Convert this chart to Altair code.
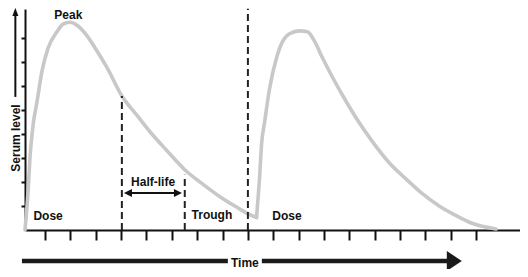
import altair as alt
import pandas as pd

# ---- data (time in tick units, serum level in tick units) ----
dose1_t = [0.21, 0.33, 0.41, 0.53, 0.69, 0.88, 1.12, 1.47, 1.71, 1.98, 2.30, 2.65, 3.05, 3.44,
           4.03, 4.62, 5.13, 5.80, 6.51, 7.22, 8.00, 8.67, 8.99, 9.34]
dose1_v = [0.00, 1.59, 3.07, 4.38, 5.38, 6.61, 7.57, 8.25, 8.57, 8.65, 8.49, 8.09, 7.45, 6.77,
           5.58, 4.78, 4.10, 3.31, 2.51, 1.91, 1.31, 0.88, 0.68, 0.52]
dose2_t = [9.34, 9.46, 9.54, 9.66, 9.85, 10.13, 10.37, 10.64, 11.03, 11.35, 11.63, 11.94, 12.33,
           12.88, 13.40, 13.91, 14.58, 15.25, 15.88, 16.54, 17.21, 17.84, 18.79]
dose2_v = [0.52, 2.19, 3.59, 4.50, 5.86, 7.17, 7.85, 8.17, 8.29, 8.25, 7.85, 7.17, 6.37,
           5.34, 4.45, 3.68, 2.79, 2.11, 1.51, 1.00, 0.60, 0.28, 0.04]

x_ticks = list(range(1, 19))
y_ticks = list(range(1, 9))

dash_t = [4.03, 6.51, 9.0]
dash_top = [5.58, 2.30, 9.21]

label_text = ["Peak", "Dose", "Half-life", "Trough", "Dose"]
label_t = [1.92, 1.12, 5.26, 7.58, 10.54]
label_v = [8.79, 0.42, 1.83, 0.46, 0.42]

time_label_t = [8.88]
time_label_v = [-1.54]
time_bar_t = [0.09, 9.55]
time_bar_t2 = [8.21, 16.96]
time_bar_v = [-1.29, -1.29]
time_head_t = [17.14]

half_t = [4.27]
half_t2 = [6.24]
half_v = [1.54]

serum_t = [0.012]
serum_v = [3.83]
serum_arrow_t = [-0.17]
serum_arrow_v = [5.54]
serum_arrow_v2 = [8.92]
serum_head_v = [9.08]

# ---- scales / axes ----
xs = alt.Scale(domain=[0.21, 19.73], nice=False, zero=False)
ys = alt.Scale(domain=[0, 9.2], nice=False, zero=False)
FONT = "Liberation Sans"
INK = "#111111"

x_axis = alt.Axis(values=x_ticks, labels=False, title=None, grid=False,
                  tickSize=10, tickWidth=2, tickColor=INK, domainColor=INK, domainWidth=2)
y_axis = alt.Axis(values=y_ticks, labels=False, title=None, grid=False,
                  tickSize=4, tickWidth=2, tickColor=INK, domainColor=INK, domainWidth=2)


def X(field="t"):
    return alt.X(f"{field}:Q", scale=xs, axis=x_axis)


def Y(field="v"):
    return alt.Y(f"{field}:Q", scale=ys, axis=y_axis)


curve_df = pd.DataFrame({
    "t": dose1_t + dose2_t,
    "v": dose1_v + dose2_v,
    "dose": ["first"] * len(dose1_t) + ["second"] * len(dose2_t),
})

curve = alt.Chart(curve_df).mark_line(
    interpolate="monotone", color="#c8c8c8", strokeWidth=3.6, strokeCap="round", strokeJoin="round"
).encode(x=X(), y=Y(), detail="dose:N")

dash_df = pd.DataFrame({"t": dash_t, "v": [0] * len(dash_t), "v2": dash_top})
dashes = alt.Chart(dash_df).mark_rule(color="#222222", strokeWidth=2, strokeDash=[7, 4]).encode(
    x=X(), y=Y(), y2="v2:Q"
)

lab_df = pd.DataFrame({"t": label_t, "v": label_v, "label": label_text})
labels = alt.Chart(lab_df).mark_text(
    font=FONT, fontWeight="bold", fontSize=12, align="center", baseline="alphabetic", color=INK
).encode(x=X(), y=Y(), text="label:N")

time_df = pd.DataFrame({"t": time_label_t, "v": time_label_v, "label": ["Time"]})
time_text = alt.Chart(time_df).mark_text(
    font=FONT, fontWeight="bold", fontSize=12, align="center", baseline="alphabetic", color=INK
).encode(x=X(), y=Y(), text="label:N")

bar_df = pd.DataFrame({"t": time_bar_t, "t2": time_bar_t2, "v": time_bar_v})
time_bars = alt.Chart(bar_df).mark_rule(color="#1a1a1a", strokeWidth=4.5).encode(
    x=X(), x2="t2:Q", y=Y()
)

head_df = pd.DataFrame({"t": time_head_t, "v": [time_bar_v[0]]})
time_head = alt.Chart(head_df).mark_point(
    shape="M-0.75,-1L0.75,0L-0.75,1Z", size=400, filled=True, opacity=1, color="#1a1a1a", strokeWidth=0
).encode(x=X(), y=Y())

half_df = pd.DataFrame({"t": half_t, "t2": half_t2, "v": half_v})
half_line = alt.Chart(half_df).mark_rule(color=INK, strokeWidth=2.2).encode(
    x=X(), x2="t2:Q", y=Y()
)
half_left = alt.Chart(pd.DataFrame({"t": half_t, "v": half_v})).mark_point(
    shape="M-1,0L1,-1L1,1Z", size=64, filled=True, opacity=1, color=INK, strokeWidth=0
).encode(x=X(), y=Y())
half_right = alt.Chart(pd.DataFrame({"t": half_t2, "v": half_v})).mark_point(
    shape="M1,0L-1,-1L-1,1Z", size=64, filled=True, opacity=1, color=INK, strokeWidth=0
).encode(x=X(), y=Y())

serum_df = pd.DataFrame({"t": serum_t, "v": serum_v, "label": ["Serum level"]})
serum_text = alt.Chart(serum_df).mark_text(
    font=FONT, fontWeight="bold", fontSize=12, angle=270, align="center", baseline="alphabetic", color=INK
).encode(x=X(), y=Y(), text="label:N")
serum_line = alt.Chart(
    pd.DataFrame({"t": serum_arrow_t, "v": serum_arrow_v, "v2": serum_arrow_v2})
).mark_rule(color=INK, strokeWidth=2).encode(x=X(), y=Y(), y2="v2:Q")
serum_head = alt.Chart(pd.DataFrame({"t": serum_arrow_t, "v": serum_head_v})).mark_point(
    shape="M0,-1L0.75,1L-0.75,1Z", size=64, filled=True, opacity=1, color=INK, strokeWidth=0
).encode(x=X(), y=Y())

chart = alt.layer(
    curve, dashes, labels, time_text, time_bars, time_head,
    half_line, half_left, half_right, serum_text, serum_line, serum_head,
).properties(
    width=495, height=221,
    padding={"left": 17, "top": 1, "right": 0, "bottom": 39},
    autosize=alt.AutoSizeParams(type="none"),
    background="white",
).configure_view(stroke=None)

chart.save("out.html", embed_options={"renderer": "svg", "actions": False})
